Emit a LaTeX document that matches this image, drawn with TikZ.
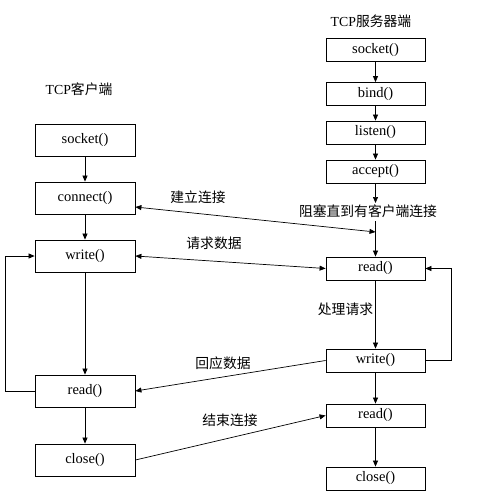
\documentclass[tikz,border=0pt]{standalone}
\usepackage{fontspec}
\setmainfont{Liberation Serif}
\newfontfamily\cjk{Noto Sans CJK SC}
\usetikzlibrary{arrows.meta}
\begin{document}
\begin{tikzpicture}[x=1pt,y=-1pt,
  cbox/.style={draw,line width=0.8pt,minimum width=100pt,minimum height=32pt,inner sep=0pt,font=\fontsize{14.5}{15}\selectfont},
  sbox/.style={draw,line width=0.8pt,minimum width=99pt,minimum height=23pt,inner sep=0pt,font=\fontsize{14.5}{15}\selectfont},
  lbl/.style={inner sep=0pt,font=\fontsize{13.8}{14}\selectfont\cjk},
  ttl/.style={inner sep=0pt,font=\fontsize{13.8}{14}\selectfont},
  conn/.style={line width=0.7pt},
  arr/.style={conn,-{Triangle[length=6pt,width=5pt]}},
  darr/.style={conn,{Triangle[length=6pt,width=5pt]}-{Triangle[length=6pt,width=5pt]}}]
\useasboundingbox (0,0) rectangle (497,501);
\fill[white] (0,0) rectangle (497,501);
% titles
\node[ttl] (tserv) at (371,21) {TCP{\cjk 服务器端}};
\node[ttl] (tcli) at (79,89) {TCP{\cjk 客户端}};
% client boxes
\node[cbox] (csock) at (85,140) {socket()};
\node[cbox] (cconn) at (85,198) {connect()};
\node[cbox] (cwrite) at (85,256) {write()};
\node[cbox] (cread) at (85,391) {read()};
\node[cbox] (cclose) at (85,460) {close()};
% server boxes
\node[sbox] (ssock) at (375.5,50) {socket()};
\node[sbox] (sbind) at (375.5,94) {bind()};
\node[sbox] (slist) at (375.5,132.5) {listen()};
\node[sbox] (sacc) at (375.5,171.5) {accept()};
\node[sbox] (sread) at (375.5,268.5) {read()};
\node[sbox] (swrite) at (375.5,360.5) {write()};
\node[sbox] (sread2) at (375.5,415.5) {read()};
\node[sbox] (sclose) at (375.5,478.5) {close()};
% labels
\node[lbl] (lblock) at (368,211) {阻塞直到有客户端连接};
\node[lbl] (lconn) at (198,197) {建立连接};
\node[lbl] (lreq) at (214,243) {请求数据};
\node[lbl] (lproc) at (345.5,309) {处理请求};
\node[lbl] (lresp) at (223,363) {回应数据};
\node[lbl] (lend) at (230,420) {结束连接};
% coordinates
\coordinate (blkend) at (375.5,203);
\coordinate (blkstart) at (375.5,221);
\coordinate (hit) at (375.5,232);
\coordinate (cl) at (5,0);
\coordinate (sr) at (451,0);
% client vertical arrows
\draw[arr] (csock) -- (cconn);
\draw[arr] (cconn) -- (cwrite);
\draw[arr] (cwrite) -- (cread);
\draw[arr] (cread) -- (cclose);
% server vertical arrows
\draw[arr] (ssock) -- (sbind);
\draw[arr] (sbind) -- (slist);
\draw[arr] (slist) -- (sacc);
\draw[arr] (sacc) -- (blkend);
\draw[arr] (blkstart) -- (sread);
\draw[arr] (sread) -- (swrite);
\draw[arr] (swrite) -- (sread2);
\draw[arr] (sread2) -- (sclose);
% cross connections
\draw[darr] ([yshift=-9pt]cconn.east) -- (hit);
\draw[darr] (cwrite.east) -- (sread.west);
\draw[arr] (swrite.west) -- (cread.east);
\draw[arr] (cclose.east) -- (sread2.west);
% loops
\draw[arr] (cread.west) -- (cread.west -| cl) -- (cwrite.west -| cl) -- (cwrite.west);
\draw[arr] (swrite.east) -- (swrite.east -| sr) -- (sread.east -| sr) -- (sread.east);
\end{tikzpicture}
\end{document}
